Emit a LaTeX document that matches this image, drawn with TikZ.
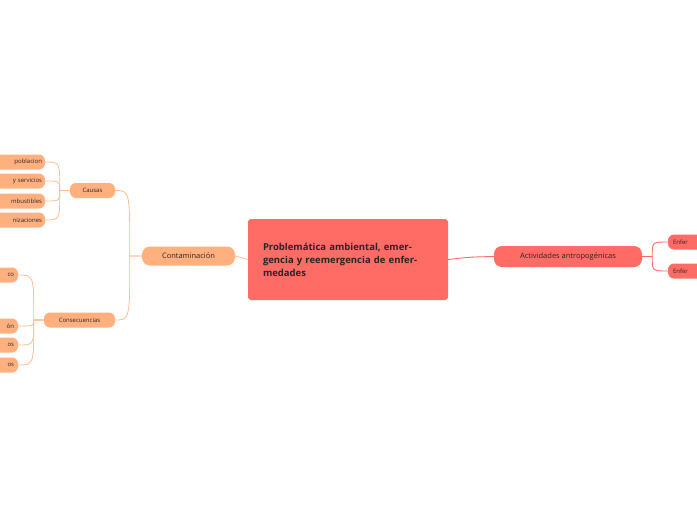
\documentclass[tikz,border=0pt]{standalone}
\usepackage{fontspec}
\setmainfont{Open Sans}
\begin{document}
\begin{tikzpicture}[x=1pt,y=-1pt,
 peach/.style={fill=peachc,rounded corners=6pt,inner sep=0pt,font=\fontsize{6}{7}\selectfont,text=black!85},
 red/.style={fill=redc,rounded corners=6pt,inner sep=0pt,text=black!85},
 pl/.style={draw=peachl,line width=0.8pt},
 rl/.style={draw=redc,line width=0.9pt}]
\definecolor{peachc}{HTML}{FFB07E}
\definecolor{peachl}{HTML}{FFBC8F}
\definecolor{redc}{HTML}{FF6B65}
\useasboundingbox (0,0) rectangle (697,520);
\begin{scope}
\clip (0,0) rectangle (697,520);
\node[red,minimum width=200pt,minimum height=81pt,rounded corners=3pt,text width=170pt,align=left,font=\bfseries\fontsize{9.5}{13}\selectfont] (c) at (348,259.5) {Problemática ambiental, emergencia y reemergencia de enfermedades};
\node[peach,minimum width=93pt,minimum height=19pt,rounded corners=8pt,font=\fontsize{7.5}{9}\selectfont] (cont) at (188.5,256) {Contaminación};
\node[peach,minimum width=45pt,minimum height=15pt] (cau) at (92.5,190.5) {Causas};
\node[peach,minimum width=71pt,minimum height=15pt] (con) at (79.5,320) {Consecuencias};
\foreach \n/\y/\t in {a/162/poblacion,b/181/y servicios,c2/201/mbustibles,d/220/nizaciones}
  \node[peach,minimum width=90pt,minimum height=15pt,text width=84pt,align=right] (\n) at (0,\y) {\t};
\foreach \n/\y/\t in {e/275/co,f/326/ón,g/345/os,h/365/os}
  \node[peach,minimum width=60pt,minimum height=15pt,text width=52pt,align=right] (\n) at (-12,\y) {\t};
\node[red,minimum width=148pt,minimum height=21pt,rounded corners=8pt,font=\fontsize{7.5}{9}\selectfont] (act) at (568,256.5) {Actividades antropogénicas};
\node[red,minimum width=60pt,minimum height=15pt,text width=50pt,align=left,font=\fontsize{6}{7}\selectfont] (r1) at (698,242) {Enfer};
\node[red,minimum width=60pt,minimum height=15pt,text width=50pt,align=left,font=\fontsize{6}{7}\selectfont] (r2) at (698,271) {Enfer};
\draw[pl] (c.west) -- (cont.east);
\foreach \t in {cau,con}
  \draw[pl] (cont.west) -- ++(-12,0) coordinate (j) .. controls (j |- \t.east) .. (\t.east);
\foreach \t in {a,b,c2,d}
  \draw[pl] (cau.west) -- ++(-10,0) coordinate (j) .. controls (j |- \t.east) .. (\t.east);
\foreach \t in {e,f,g,h}
  \draw[pl] (con.west) -- ++(-10,0) coordinate (j) .. controls (j |- \t.east) .. (\t.east);
\draw[rl] (c.east) .. controls (470,257) .. (act.west);
\foreach \t in {r1,r2}
  \draw[rl] (act.east) -- ++(10,0) coordinate (j) .. controls (j |- \t.west) .. (\t.west);
\end{scope}
\end{tikzpicture}
\end{document}
